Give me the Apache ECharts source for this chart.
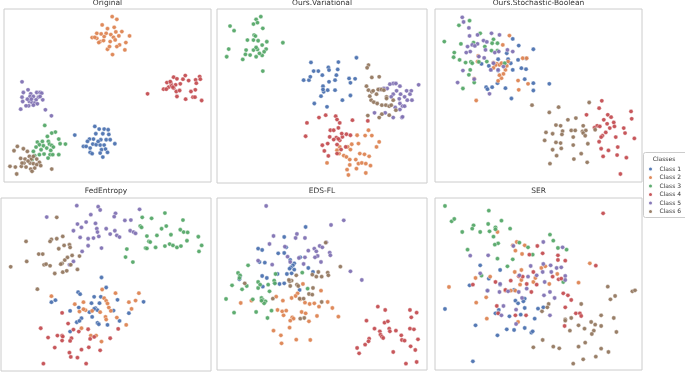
<!DOCTYPE html>
<html>
<head>
<meta charset="utf-8">
<script src="https://cdn.jsdelivr.net/npm/echarts@6/dist/echarts.min.js"></script>
<style>
  html, body { margin: 0; padding: 0; background: #fff; }
  #chart { width: 685px; height: 376px; }
</style>
</head>
<body>
<div id="chart"></div>
<script>
// classes and panel names
const classNames = ['Class 1', 'Class 2', 'Class 3', 'Class 4', 'Class 5', 'Class 6'];
const colors = ['#4C72B0', '#DD8452', '#55A868', '#C44E52', '#8172B3', '#937860'];
const panelTitles = ['Original', 'Ours.Variational', 'Ours.Stochastic-Boolean', 'FedEntropy', 'EDS-FL', 'SER'];

// embedding coordinates (x right, y down)
// Original
const orig1 = [[224,406],[284,380],[297,388],[312,388],[324,390],[287,402],[308,402],[326,404],[268,418],[280,418],[262,425],[302,420],[318,420],[278,433],[288,435],[300,436],[312,436],[344,432],[250,440],[258,440],[270,445],[304,450],[316,448],[270,458],[300,460],[322,458],[308,472],[276,462],[294,425],[330,420]];
const orig2 = [[336,50],[350,58],[306,75],[342,82],[322,86],[290,100],[303,102],[318,100],[332,104],[347,96],[365,95],[388,108],[276,113],[290,115],[312,110],[340,112],[356,108],[300,125],[310,122],[330,125],[345,120],[377,128],[296,128],[322,148],[358,135],[374,150],[337,164],[328,140],[284,112],[350,140]];
const orig3 = [[134,377],[166,397],[142,410],[112,427],[127,425],[145,425],[176,418],[118,435],[130,438],[148,433],[155,437],[196,433],[108,442],[160,442],[140,445],[180,432],[104,468],[118,465],[132,463],[150,465],[158,465],[176,465],[96,480],[144,475],[100,455],[123,450],[152,452],[155,400]];
const orig4 = [[442,282],[555,227],[598,230],[520,232],[530,237],[548,238],[565,242],[586,240],[600,238],[500,248],[512,250],[526,255],[540,252],[505,262],[514,258],[520,265],[490,268],[498,268],[528,275],[538,272],[572,275],[585,270],[588,250],[530,290],[556,298],[578,292],[584,292],[604,302],[510,245],[518,262]];
const orig5 = [[66,246],[84,270],[70,278],[92,282],[110,278],[120,278],[125,280],[66,292],[90,290],[100,290],[115,292],[108,300],[128,300],[68,305],[88,305],[96,308],[104,310],[112,312],[86,318],[62,328],[78,318],[100,316],[136,330],[154,348],[120,290],[82,298],[94,298]];
const orig6 = [[42,453],[52,440],[70,447],[82,455],[88,470],[62,476],[75,478],[94,478],[100,470],[110,478],[118,488],[72,490],[90,490],[100,492],[110,495],[122,498],[30,500],[46,502],[64,500],[78,502],[92,508],[104,505],[155,508],[96,515],[50,523],[66,490],[84,484]];

// Ours.Variational
const vari1 = [[294,187],[376,186],[430,173],[302,213],[316,213],[328,225],[346,202],[348,210],[374,208],[272,240],[288,240],[292,230],[370,225],[408,235],[426,236],[348,245],[330,258],[344,270],[366,270],[412,248],[332,275],[324,288],[388,300],[304,310],[412,286],[342,320],[330,268],[366,240]];
const vari2 = [[432,405],[456,406],[476,406],[466,390],[436,430],[416,432],[404,440],[380,440],[498,425],[490,440],[372,450],[412,448],[440,460],[454,462],[468,468],[392,466],[400,470],[410,478],[428,478],[436,490],[446,488],[458,490],[472,496],[342,488],[410,494],[402,508],[430,505],[458,518],[406,524],[378,460]];
const vari3 = [[52,78],[64,92],[122,72],[130,58],[144,50],[134,68],[150,85],[124,105],[128,108],[104,120],[122,120],[136,122],[162,125],[210,128],[148,135],[48,147],[100,150],[122,150],[134,148],[130,142],[160,147],[154,155],[98,163],[112,165],[130,170],[148,166],[42,170],[90,178],[150,213],[140,160]];
const vari4 = [[318,352],[338,345],[368,348],[372,358],[282,368],[380,368],[418,360],[464,362],[352,390],[362,390],[376,383],[400,402],[412,405],[278,408],[350,410],[370,412],[380,420],[388,410],[376,416],[362,418],[328,435],[344,430],[372,433],[334,452],[346,467],[372,460],[384,448],[398,440],[386,400]];
const vari5 = [[540,250],[548,250],[530,252],[560,258],[522,265],[550,272],[580,272],[594,272],[616,254],[562,282],[540,282],[534,290],[574,290],[558,296],[582,300],[596,300],[560,310],[568,318],[546,322],[560,328],[574,318],[484,338],[516,338],[540,352],[566,352],[568,350],[500,268],[512,265],[590,282]];
const vari6 = [[466,195],[462,203],[476,232],[498,230],[460,258],[466,270],[476,275],[495,268],[505,268],[512,270],[490,282],[520,290],[474,300],[482,306],[492,310],[506,315],[518,315],[528,318],[534,315],[548,330],[528,345],[506,342],[498,352],[464,346],[520,295],[470,288],[540,300],[480,272]];

// Ours.Stochastic-Boolean
const stoc1 = [[254,117],[272,137],[316,148],[236,160],[210,178],[240,178],[270,180],[294,176],[182,198],[188,210],[210,212],[254,210],[248,190],[280,205],[294,208],[208,250],[232,265],[174,262],[192,262],[178,268],[290,238],[316,250],[316,272],[250,296],[364,252],[160,192]];
const stoc2 = [[244,107],[224,135],[150,168],[148,185],[196,188],[206,192],[214,195],[220,190],[202,196],[240,185],[284,175],[296,175],[232,210],[226,222],[220,235],[210,243],[214,226],[236,198],[270,242],[272,270],[300,252],[138,236],[144,302],[196,204]];
const stoc3 = [[92,76],[124,62],[48,125],[98,132],[136,128],[156,100],[196,118],[208,130],[190,152],[208,152],[78,158],[76,172],[94,180],[112,188],[128,186],[132,190],[152,186],[176,185],[126,210],[122,225],[138,248],[104,266],[230,190],[170,140],[192,130]];
const stoc4 = [[522,303],[514,325],[476,345],[540,345],[550,352],[610,335],[612,357],[528,360],[558,368],[508,378],[516,380],[538,372],[546,385],[560,380],[588,385],[534,398],[524,408],[520,412],[564,412],[592,400],[620,416],[514,426],[570,442],[520,447],[542,452],[568,466],[526,470],[596,474],[578,523],[500,384]];
const stoc5 = [[102,52],[106,66],[122,84],[124,108],[148,105],[190,100],[214,105],[166,122],[176,126],[148,132],[132,135],[140,138],[118,140],[126,155],[114,158],[172,150],[152,170],[168,174],[200,158],[212,155],[238,150],[254,155],[196,190],[188,210],[104,212],[138,238],[88,248],[184,282],[210,210],[226,200]];
const stoc6 = [[312,316],[392,322],[484,308],[444,355],[364,338],[420,360],[384,376],[398,378],[466,378],[404,394],[354,398],[374,402],[402,404],[430,392],[442,392],[464,395],[474,392],[502,390],[436,412],[466,400],[472,408],[350,422],[384,428],[398,430],[480,432],[436,436],[374,450],[400,446],[460,462],[386,468],[438,478],[366,492],[478,488]];

// FedEntropy
const fede1 = [[304,278],[318,308],[234,322],[240,328],[282,336],[302,336],[166,346],[154,352],[274,355],[298,355],[352,345],[430,351],[236,368],[210,378],[286,370],[292,376],[282,372],[340,377],[386,385],[244,400],[230,412],[238,408],[276,396],[292,414],[296,418],[358,408],[210,440],[322,420],[268,382]];
const fede2 = [[154,334],[306,314],[346,325],[416,325],[312,340],[318,348],[322,356],[250,352],[224,358],[238,380],[256,376],[276,378],[300,382],[326,368],[332,378],[316,396],[406,347],[386,352],[394,372],[350,398],[318,404],[378,420],[244,430],[272,452],[288,452],[304,470],[250,373]];
const fede3 = [[426,98],[454,101],[494,85],[548,106],[484,132],[420,124],[424,128],[498,124],[540,135],[550,142],[562,143],[440,154],[470,152],[512,150],[594,156],[446,170],[450,172],[380,193],[436,190],[466,188],[494,184],[508,178],[518,182],[530,188],[542,184],[560,168],[604,182],[596,200],[376,217],[398,232],[440,191]];
const fede4 = [[186,384],[204,416],[122,430],[236,440],[264,433],[144,458],[172,452],[186,452],[188,455],[214,460],[210,468],[270,462],[282,456],[330,460],[354,432],[186,467],[164,488],[244,494],[266,487],[300,496],[208,503],[212,516],[232,518],[258,536],[130,536],[220,434]];
const fede5 = [[230,63],[294,66],[300,76],[140,97],[272,90],[346,86],[342,96],[418,74],[258,112],[232,118],[286,116],[374,107],[392,106],[220,138],[244,128],[290,132],[318,132],[344,138],[292,142],[390,138],[400,142],[406,146],[330,148],[350,152],[358,157],[240,158],[264,162],[280,160],[296,155],[264,183],[304,190],[246,200],[220,230],[208,240]];
const fede6 = [[170,98],[78,170],[154,164],[170,162],[188,155],[150,170],[192,182],[208,180],[210,188],[176,192],[116,208],[128,208],[216,212],[238,214],[80,230],[202,218],[194,226],[186,236],[132,240],[138,238],[150,243],[212,240],[182,238],[32,246],[164,266],[188,262],[200,258],[232,254],[112,313]];

// EDS-FL
const eds1 = [[278,127],[214,157],[220,188],[136,192],[148,196],[196,206],[214,205],[232,226],[262,218],[140,232],[156,234],[244,236],[240,242],[234,248],[230,252],[244,255],[236,266],[222,268],[194,268],[300,262],[82,276],[148,274],[162,280],[186,296],[200,298],[214,296],[260,316],[286,250],[80,284],[150,306]];
const eds2 = [[84,355],[116,348],[150,350],[190,336],[210,348],[236,340],[270,298],[254,326],[248,334],[262,344],[276,354],[290,358],[304,356],[324,318],[344,352],[318,366],[358,370],[194,376],[208,380],[220,378],[212,392],[238,398],[242,402],[232,408],[266,382],[278,386],[288,410],[312,394],[376,396],[182,438],[230,429],[204,452],[206,476],[250,465],[292,466]];
const eds3 = [[106,242],[76,265],[82,272],[80,280],[58,302],[88,314],[102,304],[40,343],[136,292],[136,310],[142,300],[166,300],[184,288],[186,296],[170,320],[268,264],[284,312],[146,340],[150,346],[158,350],[154,356],[146,348],[64,384],[130,382],[176,378],[164,400],[120,344],[188,268]];
const eds4 = [[494,366],[516,376],[590,376],[610,384],[460,408],[514,414],[524,410],[528,432],[484,432],[500,440],[502,450],[506,456],[510,460],[548,438],[564,452],[590,432],[602,434],[594,398],[468,462],[466,470],[456,480],[432,490],[438,506],[566,466],[574,468],[614,464],[540,502],[592,485],[606,496],[610,532],[578,537],[530,440]];
const eds5 = [[160,64],[392,107],[354,121],[182,154],[252,148],[248,160],[276,160],[170,178],[216,186],[340,173],[286,198],[304,192],[320,184],[328,188],[310,200],[350,204],[352,212],[314,214],[306,218],[324,232],[276,218],[258,220],[272,238],[136,228],[178,240],[412,260],[446,286],[232,232],[224,216]];
const eds6 = [[338,174],[382,246],[316,262],[344,264],[250,272],[298,270],[310,276],[326,276],[346,272],[236,288],[230,290],[252,300],[256,304],[232,304],[300,310],[96,296],[180,342],[288,328],[298,330],[260,342],[272,342],[326,352],[262,402],[228,286],[274,400]];

// SER
const ser1 = [[156,242],[216,256],[182,282],[124,302],[178,318],[216,300],[50,373],[262,348],[270,356],[290,342],[290,370],[278,390],[244,395],[212,376],[210,384],[202,386],[330,372],[346,368],[320,402],[142,422],[236,434],[258,436],[290,430],[310,444],[314,440],[208,452],[134,530],[258,316],[286,350]];
const ser2 = [[266,172],[208,142],[254,182],[290,182],[262,198],[282,208],[340,250],[352,245],[280,256],[260,262],[186,276],[142,280],[388,268],[280,286],[276,300],[262,318],[248,318],[232,318],[316,292],[364,298],[452,294],[486,236],[62,307],[144,354],[174,338],[176,402],[270,412],[322,280]];
const ser3 = [[50,64],[182,78],[70,110],[78,103],[136,122],[132,132],[180,118],[220,108],[102,142],[156,142],[184,140],[202,128],[202,134],[246,132],[196,156],[210,176],[200,180],[274,174],[300,188],[366,150],[376,168],[390,190],[416,195],[118,195],[208,222],[254,224],[238,245],[160,273],[314,210],[406,292]];
const ser4 = [[526,86],[304,210],[328,184],[344,206],[390,212],[412,228],[504,243],[390,226],[272,275],[284,276],[296,298],[310,322],[374,276],[392,284],[400,282],[202,292],[248,288],[232,316],[134,300],[406,326],[420,332],[430,346],[206,364],[210,386],[262,392],[294,392],[412,368],[444,386],[456,386],[460,394],[410,424],[316,262],[326,300]];
const ser5 = [[346,172],[256,184],[404,188],[126,213],[180,212],[216,298],[214,322],[178,318],[156,266],[308,244],[346,238],[344,262],[370,262],[368,242],[386,250],[400,248],[412,274],[412,286],[274,272],[300,276],[326,272],[350,292],[296,312],[272,322],[348,332],[366,322],[380,340],[226,364],[220,392],[264,375],[264,418],[366,392],[240,320],[282,340]];
const ser6 = [[540,306],[614,320],[622,317],[562,334],[548,344],[460,358],[362,358],[358,368],[342,380],[430,400],[412,404],[412,408],[520,392],[558,400],[490,412],[502,420],[452,422],[470,432],[426,438],[498,438],[520,424],[566,442],[492,448],[472,474],[344,466],[316,488],[376,486],[394,491],[452,486],[520,492],[542,502],[466,524],[504,516],[436,537]];

const panelData = [
  [orig1, orig2, orig3, orig4, orig5, orig6],
  [vari1, vari2, vari3, vari4, vari5, vari6],
  [stoc1, stoc2, stoc3, stoc4, stoc5, stoc6],
  [fede1, fede2, fede3, fede4, fede5, fede6],
  [eds1, eds2, eds3, eds4, eds5, eds6],
  [ser1, ser2, ser3, ser4, ser5, ser6]
];
// axis extents (same units as the points) matching each frame
const xRanges = [[12, 632], [13, 641], [20, 643], [3, 632], [13, 641], [20, 643]];
const yRanges = [[27, 547], [27, 548], [27, 547], [40, 558], [40, 556], [40, 556]];

// layout of the six frames in the page
const grids = [
  { left: 4, top: 9, width: 207, height: 173 },
  { left: 217, top: 9, width: 210, height: 174 },
  { left: 435, top: 9, width: 207, height: 173 },
  { left: 1, top: 198, width: 210, height: 173 },
  { left: 217, top: 198, width: 210, height: 172 },
  { left: 435, top: 198, width: 207, height: 172 }
];

const chart = echarts.init(document.getElementById('chart'), null, { renderer: 'canvas' });

const hidden = {
  axisLine: { show: false },
  axisTick: { show: false },
  axisLabel: { show: false },
  splitLine: { show: false }
};

const series = [];
panelData.forEach((sets, p) => {
  sets.forEach((pts, c) => {
    series.push({
      name: classNames[c],
      type: 'scatter',
      xAxisIndex: p,
      yAxisIndex: p,
      data: pts,
      symbolSize: 4.3,
      itemStyle: { color: colors[c], borderColor: '#fff', borderWidth: 0.4, opacity: 0.95 },
      emphasis: { disabled: true },
      silent: true
    });
  });
});

chart.setOption({
  animation: false,
  textStyle: { fontFamily: 'DejaVu Sans' },
  title: grids.map((g, i) => ({
    text: panelTitles[i],
    left: g.left + g.width / 2,
    top: i < 3 ? -1 : 187,
    textAlign: 'center',
    padding: 0,
    textStyle: { fontSize: 7.5, fontWeight: 'normal', color: '#333', fontFamily: 'DejaVu Sans' }
  })),
  grid: grids.map(g => Object.assign({ show: true, borderColor: '#cccccc', borderWidth: 1, backgroundColor: 'transparent' }, g)),
  xAxis: xRanges.map((r, i) => Object.assign({ type: 'value', gridIndex: i, min: r[0], max: r[1] }, hidden)),
  yAxis: yRanges.map((r, i) => Object.assign({ type: 'value', gridIndex: i, min: r[0], max: r[1], inverse: true }, hidden)),
  graphic: [
    {
      type: 'rect',
      z: 0,
      shape: { x: 643.5, y: 152.5, width: 60, height: 65, r: 2 },
      style: { fill: '#fff', stroke: '#cccccc', lineWidth: 1 }
    },
    {
      type: 'text',
      z: 1,
      x: 664,
      y: 156,
      style: { text: 'Classes', fontSize: 6, fill: '#333', fontFamily: 'DejaVu Sans', align: 'center' }
    }
  ],
  legend: {
    data: classNames,
    orient: 'vertical',
    left: 647,
    top: 165.5,
    padding: 0,
    itemGap: 1.5,
    itemWidth: 8,
    itemHeight: 5,
    icon: 'circle',
    selectedMode: false,
    textStyle: { fontSize: 6, lineHeight: 7, color: '#333', fontFamily: 'DejaVu Sans' }
  },
  series: series
});
</script>
</body>
</html>
